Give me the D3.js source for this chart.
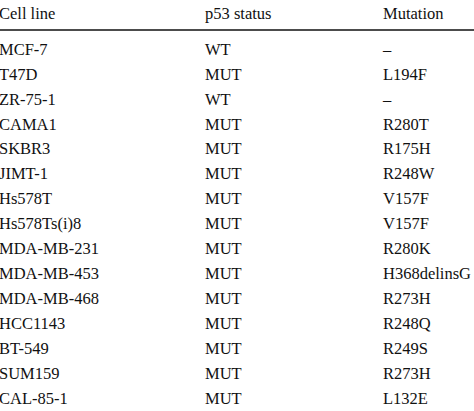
<!DOCTYPE html>
<meta charset="utf-8">
<style>
body { margin: 0; background: #fff; }
text { font-family: "Liberation Serif", "Times New Roman", serif; font-size: 16.5px; fill: #111; }
</style>
<body>
<svg width="474" height="411"></svg>
<script src="https://d3js.org/d3.v7.min.js"></script>
<script>
var headers = ["Cell line", "p53 status", "Mutation"];
var cellLines = ["MCF-7","T47D","ZR-75-1","CAMA1","SKBR3","JIMT-1","Hs578T","Hs578Ts(i)8",
  "MDA-MB-231","MDA-MB-453","MDA-MB-468","HCC1143","BT-549","SUM159","CAL-85-1"];
var p53Status = ["WT","MUT","WT","MUT","MUT","MUT","MUT","MUT","MUT","MUT","MUT","MUT","MUT","MUT","MUT"];
var mutations = ["–","L194F","–","R280T","R175H","R248W","V157F","V157F","R280K","H368delinsG",
  "R273H","R248Q","R249S","R273H","L132E"];

var svg = d3.select("svg");

var x = d3.scaleOrdinal().domain([0, 1, 2]).range([-1, 205, 383]);
var y = d3.scaleLinear().domain([0, 14]).range([49, 398]);

// header
svg.selectAll(".hdr").data(headers).enter().append("text")
  .attr("class", "hdr")
  .attr("x", function(d, i) { return x(i); })
  .attr("y", 19)
  .text(function(d) { return d; });

svg.append("line")
  .attr("x1", 0).attr("x2", 474)
  .attr("y1", 30).attr("y2", 30)
  .attr("stroke", "#111").attr("stroke-width", 1.6);

var rows = cellLines.map(function(c, i) { return [c, p53Status[i], mutations[i]]; });

var g = svg.selectAll(".row").data(rows).enter().append("g")
  .attr("class", "row")
  .attr("transform", function(d, i) { return "translate(0," + y(i) + ")"; });

g.selectAll("text").data(function(d) { return d; }).enter().append("text")
  .attr("x", function(d, i) { return x(i); })
  .attr("dy", "0.35em")
  .text(function(d) { return d; });
</script>
</body>
